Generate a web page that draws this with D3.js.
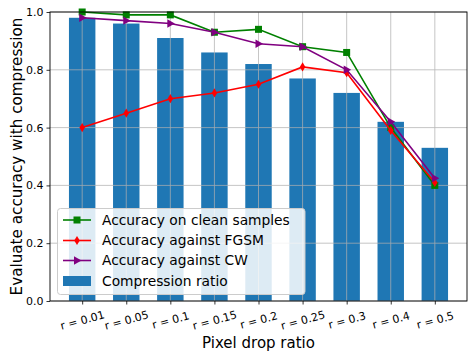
<!DOCTYPE html>
<html><head><meta charset="utf-8">
<script src="https://cdn.jsdelivr.net/npm/d3@7"></script>
<style>body{margin:0;background:#fff}svg{display:block;font-family:"DejaVu Sans",sans-serif}</style>
</head><body><svg id="c" width="474" height="359"></svg>
<script>
const categories = ["r = 0.01","r = 0.05","r = 0.1","r = 0.15","r = 0.2","r = 0.25","r = 0.3","r = 0.4","r = 0.5"];
const compression = [0.98,0.96,0.91,0.86,0.82,0.77,0.72,0.62,0.53];
const clean = [1.0,0.99,0.99,0.93,0.94,0.88,0.86,0.60,0.40];
const fgsm = [0.60,0.65,0.70,0.72,0.75,0.81,0.79,0.59,0.41];
const cw = [0.98,0.97,0.96,0.93,0.89,0.88,0.80,0.62,0.425];
const yTicks = [0,0.2,0.4,0.6,0.8,1.0];

const svg = d3.select("#c");
const L=50,R=467,T=12,B=301;
const x = d3.scaleLinear().domain([-0.73, 8.73]).range([L,R]);
const y = d3.scaleLinear().domain([0,1]).range([B,T]);
const bw = x(0.6)-x(0);

// bars
svg.append("g").selectAll("rect").data(compression).join("rect")
  .attr("x",(d,i)=>x(i)-bw/2).attr("width",bw)
  .attr("y",d=>y(d)).attr("height",d=>B-y(d)).attr("fill","#1f77b4");

// grid
const g = svg.append("g").attr("stroke","#b0b0b0").attr("stroke-width",0.8).attr("opacity",0.9);
yTicks.forEach(t=>g.append("line").attr("x1",L).attr("x2",R).attr("y1",y(t)).attr("y2",y(t)));
categories.forEach((c,i)=>g.append("line").attr("x1",x(i)).attr("x2",x(i)).attr("y1",T).attr("y2",B));

// axes
const ya = svg.append("g").attr("transform",`translate(${L},0)`)
  .call(d3.axisLeft(y).tickValues(yTicks).tickFormat(d3.format(".1f")).tickSize(3.5).tickPadding(3));
const xa = svg.append("g").attr("transform",`translate(0,${B})`)
  .call(d3.axisBottom(x).tickValues(d3.range(categories.length)).tickFormat(i=>categories[i]).tickSize(3.5));
[ya,xa].forEach(a=>{a.select(".domain").remove();a.selectAll("text").attr("font-size",11).attr("fill","#000").attr("font-family","DejaVu Sans");a.selectAll("line").attr("stroke","#000").attr("stroke-width",0.8);});
xa.selectAll("text").attr("text-anchor","middle").attr("dy",null).attr("y",null)
  .attr("transform","translate(0,20) rotate(-15)").attr("dominant-baseline","middle");

// lines
const line = d3.line().x((d,i)=>x(i)).y(d=>y(d));
const series = [
  {name:"Accuracy on clean samples", data:clean, color:"green", marker:"s"},
  {name:"Accuracy against FGSM", data:fgsm, color:"red", marker:"d"},
  {name:"Accuracy against CW", data:cw, color:"purple", marker:">"}
];
function marker(sel, type, color){
  if(type==="s") sel.append("rect").attr("x",-3.5).attr("y",-3.5).attr("width",7).attr("height",7).attr("fill",color);
  else if(type==="d") sel.append("path").attr("d","M0,-4.6L2.8,0L0,4.6L-2.8,0Z").attr("fill",color);
  else sel.append("path").attr("d","M4.5,0L-3,-4.2L-3,4.2Z").attr("fill",color);
}
series.forEach(s=>{
  svg.append("path").datum(s.data).attr("d",line).attr("fill","none").attr("stroke",s.color).attr("stroke-width",1.6);
  s.data.forEach((d,i)=>marker(svg.append("g").attr("transform",`translate(${x(i)},${y(d)})`),s.marker,s.color));
});

// frame
svg.append("rect").attr("x",L).attr("y",T).attr("width",R-L).attr("height",B-T).attr("fill","none").attr("stroke","#000").attr("stroke-width",0.9);

// legend
const lg = svg.append("g");
lg.append("rect").attr("x",57.5).attr("y",208.5).attr("width",247.5).attr("height",86).attr("rx",3)
  .attr("fill","#fff").attr("fill-opacity",0.85).attr("stroke","#cccccc");
const rows=[220,240.5,260.5,281];
series.forEach((s,i)=>{
  lg.append("line").attr("x1",63).attr("x2",91).attr("y1",rows[i]).attr("y2",rows[i]).attr("stroke",s.color).attr("stroke-width",1.6);
  marker(lg.append("g").attr("transform",`translate(77,${rows[i]})`),s.marker,s.color);
  lg.append("text").attr("x",102).attr("y",rows[i]).attr("dy","0.35em").attr("font-size",13.8).text(s.name);
});
lg.append("rect").attr("x",63).attr("y",rows[3]-5).attr("width",28).attr("height",10).attr("fill","#1f77b4");
lg.append("text").attr("x",102).attr("y",rows[3]).attr("dy","0.35em").attr("font-size",13.8).text("Compression ratio");

// axis labels
svg.append("text").attr("x",(L+R)/2).attr("y",348).attr("text-anchor","middle").attr("font-size",15).text("Pixel drop ratio");
svg.append("text").attr("transform",`translate(21.5,${(T+B)/2}) rotate(-90)`).attr("text-anchor","middle").attr("font-size",15.2).text("Evaluate accuracy with compression");
</script></body></html>
